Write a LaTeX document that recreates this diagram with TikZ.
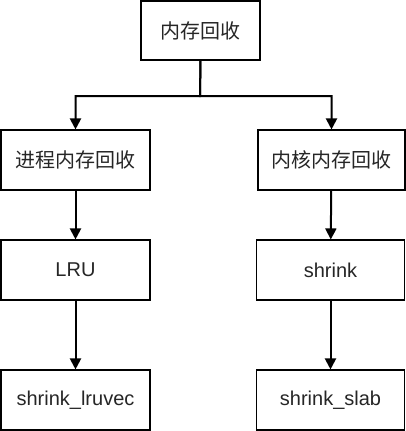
\documentclass[tikz,border=0pt]{standalone}
\usepackage{fontspec}
\setmainfont{Liberation Sans}
\newfontfamily\cjk{Noto Sans CJK SC}
\usetikzlibrary{arrows.meta}
\begin{document}
\begin{tikzpicture}[x=1pt,y=-1pt,
  box/.style={draw=black,line width=1.1pt,fill=white,inner sep=0pt,text=black!85,font=\fontsize{20}{24}\selectfont},
  conn/.style={draw=black,line width=2pt,-{Triangle[width=11pt,length=11pt]}}]
\useasboundingbox (0,0) rectangle (406,431);
\node[box,minimum width=119pt,minimum height=59pt] (top) at (200.5,30.5) {\cjk 内存回收};
\node[box,minimum width=149pt,minimum height=60pt] (lmid) at (75.5,160) {\cjk 进程内存回收};
\node[box,minimum width=147pt,minimum height=60pt] (rmid) at (331.5,160) {\cjk 内核内存回收};
\node[box,minimum width=149pt,minimum height=60pt] (lru) at (75.5,270) {LRU};
\node[box,minimum width=148pt,minimum height=60pt] (shr) at (330.5,270) {shrink};
\node[box,minimum width=149pt,minimum height=60pt] (slru) at (75.5,400) {shrink\_lruvec};
\node[box,minimum width=148pt,minimum height=60pt] (sslab) at (330.5,400) {shrink\_slab};
\coordinate (j) at (200,96);
\draw[conn] (top.south) -- (j) -| (lmid.north);
\draw[conn] (top.south) -- (j) -| (rmid.north);
\draw[conn] (lmid) -- (lru);
\draw[conn] (rmid) -- (shr);
\draw[conn] (lru) -- (slru);
\draw[conn] (shr) -- (sslab);
\end{tikzpicture}
\end{document}
